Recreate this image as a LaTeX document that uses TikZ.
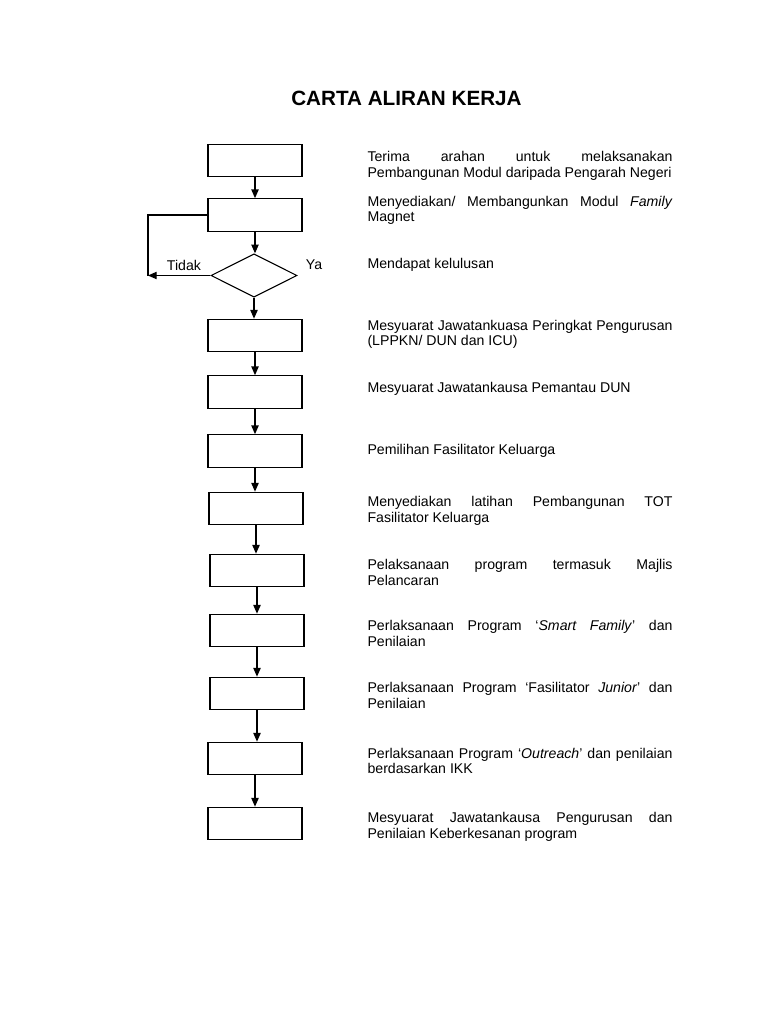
\documentclass[tikz,border=0pt]{standalone}
\usepackage{fontspec}
\setmainfont{Liberation Sans}
\usetikzlibrary{arrows.meta,shapes.geometric}
\tikzset{
  every picture/.style={line width=0.8pt, >={Triangle[length=6.5pt,width=5.5pt]}},
  % Kotak dan keputusan
  langkah/.style={draw, minimum width=70.5pt, minimum height=24.5pt, inner sep=0pt},
  keputusan/.style={draw, diamond, minimum width=64.5pt, minimum height=32.5pt, inner sep=0pt},
  % Keterangan di sebelah kanan
  catatan/.style={anchor=north west, inner sep=0pt, text width=228.75pt, align=justify,
    font=\fontsize{10.6}{11.6}\selectfont},
  tanda/.style={inner sep=0pt, font=\fontsize{10.6}{12}\selectfont},
}
\begin{document}
\begin{tikzpicture}[x=0.75pt, y=-0.75pt]
  \useasboundingbox (0,0) rectangle (768,1024);
  % Judul
  \node[font=\bfseries\fontsize{15.5}{18}\selectfont] (judul) at (406.5,98.5) {CARTA ALIRAN KERJA};
  % Aliran kerja
  \node[langkah] (s1) at (255,160.5) {};
  \node[langkah] (s2) at (255,215) {};
  \node[keputusan] (s3) at (254,275.5) {};
  \node[langkah] (s4) at (255,335.5) {};
  \node[langkah] (s5) at (255,392) {};
  \node[langkah] (s6) at (255,451) {};
  \node[langkah] (s7) at (256,508.5) {};
  \node[langkah] (s8) at (257,570.5) {};
  \node[langkah] (s9) at (257,630.5) {};
  \node[langkah] (s10) at (257,693.5) {};
  \node[langkah] (s11) at (255,758.5) {};
  \node[langkah] (s12) at (255,823.5) {};
  \draw[->] (s1.south) -- (s1.south |- s2.north);
  \draw[->] (s2.south) -- (s2.south |- s3.north);
  \draw[->] (s3.south) -- (s3.south |- s4.north);
  \draw[->] (s4.south) -- (s4.south |- s5.north);
  \draw[->] (s5.south) -- (s5.south |- s6.north);
  \draw[->] (s6.south) -- (s6.south |- s7.north);
  \draw[->] (s7.south) -- (s7.south |- s8.north);
  \draw[->] (s8.south) -- (s8.south |- s9.north);
  \draw[->] (s9.south) -- (s9.south |- s10.north);
  \draw[->] (s10.south) -- (s10.south |- s11.north);
  \draw[->] (s11.south) -- (s11.south |- s12.north);
  % Tidak lulus: balik
  \coordinate (balik) at (148,275.5);
  \draw (s2.west) -| (balik);
  \draw[->] (s3.west) -- (balik);
  \node[tanda] (tidak) at (184,265) {Tidak};
  \node[tanda] (ya) at (314,265) {Ya};
  % Keterangan
  \node[catatan] (t1) at (367,151) {Terima arahan untuk melaksanakan\linebreak Pembangunan Modul daripada Pengarah Negeri};
  \node[catatan] (t2) at (367,195.5) {Menyediakan/ Membangunkan Modul \textit{Family}\linebreak Magnet};
  \node[catatan] (t3) at (367,257.5) {Mendapat kelulusan};
  \node[catatan] (t4) at (367,319.5) {Mesyuarat Jawatankuasa Peringkat Pengurusan\linebreak (LPPKN/ DUN dan ICU)};
  \node[catatan] (t5) at (367,382) {Mesyuarat Jawatankausa Pemantau DUN};
  \node[catatan] (t6) at (367,443.5) {Pemilihan Fasilitator Keluarga};
  \node[catatan] (t7) at (367,496) {Menyediakan latihan Pembangunan TOT\linebreak Fasilitator Keluarga};
  \node[catatan] (t8) at (367,559) {Pelaksanaan program termasuk Majlis\linebreak Pelancaran};
  \node[catatan] (t9) at (367,620) {Perlaksanaan Program ‘\textit{Smart Family}’ dan\linebreak Penilaian};
  \node[catatan] (t10) at (367,682) {Perlaksanaan Program ‘Fasilitator \textit{Junior}’ dan\linebreak Penilaian};
  \node[catatan] (t11) at (367,747.5) {Perlaksanaan Program ‘\textit{Outreach}’ dan penilaian\linebreak berdasarkan IKK};
  \node[catatan] (t12) at (367,812) {Mesyuarat Jawatankausa Pengurusan dan\linebreak Penilaian Keberkesanan program};
\end{tikzpicture}
\end{document}
